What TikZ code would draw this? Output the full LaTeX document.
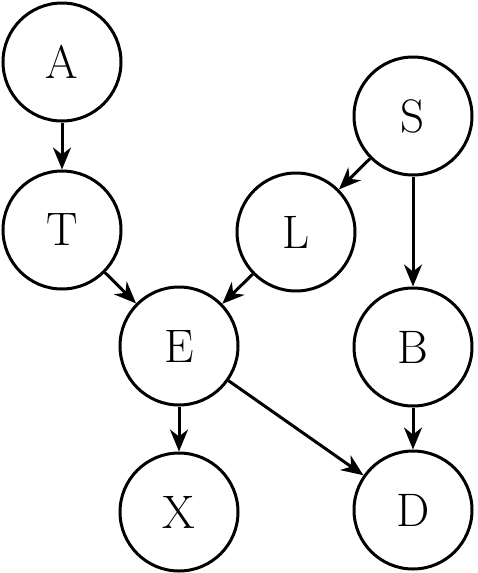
\documentclass[tikz,border=0pt]{standalone}
\usetikzlibrary{arrows.meta}
\begin{document}
\begin{tikzpicture}[x=1pt,y=-1pt,
  var/.style={draw,circle,line width=3pt,minimum size=118pt,inner sep=0pt,font=\fontsize{47}{50}\selectfont},
  edge/.style={line width=3pt,-{Stealth[length=22pt,width=18pt,inset=7pt]}}]
\useasboundingbox (0,0) rectangle (477,573);
\node[var] (A) at (62,62) {A};
\node[var] (S) at (413,116) {S};
\node[var] (T) at (62,230) {T};
\node[var] (L) at (296,232) {L};
\node[var] (E) at (179,346) {E};
\node[var] (B) at (413,347) {B};
\node[var] (X) at (179,512) {X};
\node[var] (D) at (413,510) {D};
\draw[edge] (A) -- (T);
\draw[edge] (S) -- (L);
\draw[edge] (S) -- (B);
\draw[edge] (T) -- (E);
\draw[edge] (L) -- (E);
\draw[edge] (E) -- (X);
\draw[edge] (E) -- (D);
\draw[edge] (B) -- (D);
\end{tikzpicture}
\end{document}
